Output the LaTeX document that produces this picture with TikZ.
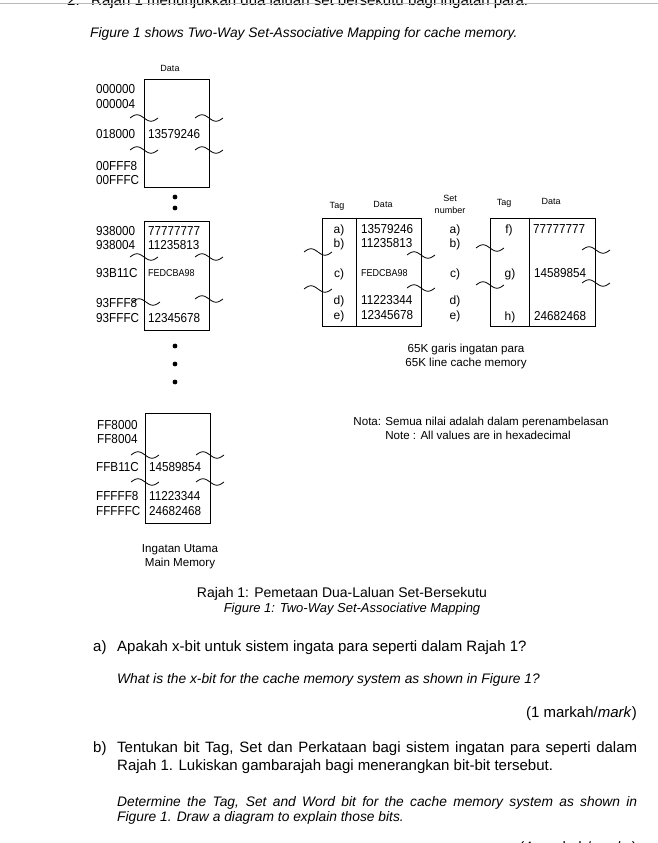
\documentclass[tikz,border=0pt]{standalone}
\usepackage{fontspec}
\setmainfont{Liberation Sans}
\newfontfamily\hexfont[FakeStretch=0.9]{Liberation Sans}
\begin{document}
\begin{tikzpicture}[x=1pt,y=-1pt,
  memcol/.style={draw, line width=0.9pt, inner sep=0pt, anchor=north west},
  hex/.style={font=\hexfont\fontsize{13}{14}\selectfont, anchor=base west, inner sep=0pt},
  hexs/.style={font=\hexfont\fontsize{10}{11}\selectfont, anchor=base west, inner sep=0pt},
  rowl/.style={font=\fontsize{12}{13}\selectfont, anchor=base, inner sep=0pt},
  hdr/.style={font=\fontsize{9}{10}\selectfont, anchor=base, inner sep=0pt},
  lbl/.style={font=\fontsize{11.6}{13}\selectfont, anchor=base, inner sep=0pt},
  body/.style={font=\fontsize{15}{18}\selectfont, anchor=base west, inner sep=0pt},
  bodyi/.style={font=\fontsize{13.8}{16}\selectfont\itshape, anchor=base west, inner sep=0pt},
  dot/.style={fill, circle, inner sep=0pt, minimum size=4.8pt},
  brk/.pic={\draw[line width=0.8pt] plot[domain=-14:14,samples=29,smooth] (\x,{3.2*sin(12.86*\x)});}
]
\useasboundingbox (0,0) rectangle (658,843);
\clip (0,0) rectangle (658,843);

% cut-off top and bottom lines
\node[body] (cutnum) at (67,6) {2.};
\node[body] (cuttop) at (91,6) {Rajah 1 menunjukkan dua laluan set bersekutu bagi ingatan para.};
\draw[gray!55, line width=0.8pt] (0,3.5) -- (658,3.5);
\node[body, anchor=base east] (cutbot) at (637,852.5) {(4 markah/\textit{marks})};

\node[bodyi] (intro) at (90,38) {Figure 1 shows Two-Way Set-Associative Mapping for cache memory.};

% ---------- main memory ----------
\node[hdr] (mdata) at (170,71) {Data};
\node[memcol, minimum width=65pt, minimum height=108pt] (m1) at (144,79) {};
\node[hex] (l1a) at (96,93.5) {000000};
\node[hex] (l1b) at (96,108) {000004};
\node[hex] (l1c) at (96,138) {018000};
\node[hex] (l1d) at (96,170.5) {00FFF8};
\node[hex] (l1e) at (96,184.5) {00FFFC};
\node[hex] (d1c) at (148,138) {13579246};
\pic at (144,118) {brk}; \pic at (209,118) {brk};
\pic at (144,150) {brk}; \pic at (209,150) {brk};

\node[dot] (dt1) at (175,197) {};
\node[dot] (dt2) at (175,208) {};

\node[memcol, minimum width=65pt, minimum height=109pt] (m2) at (144,221) {};
\node[hex] (l2a) at (96,235.5) {938000};
\node[hex] (l2b) at (96,249.5) {938004};
\node[hex] (l2c) at (96,277.5) {93B11C};
\node[hex] (l2d) at (96,307.5) {93FFF8};
\node[hex] (l2e) at (96,322.5) {93FFFC};
\node[hex] (d2a) at (148,235.5) {77777777};
\node[hex] (d2b) at (148,249.5) {11235813};
\node[hexs] (d2c) at (148,276.5) {FEDCBA98};
\node[hex] (d2e) at (148,322.5) {12345678};
\pic at (144,257) {brk}; \pic at (209,257) {brk};
\pic at (146,302) {brk}; \pic at (209,299) {brk};

\node[dot] (dt3) at (175,346) {};
\node[dot] (dt4) at (175,364) {};
\node[dot] (dt5) at (175,382) {};

\node[memcol, minimum width=65pt, minimum height=110pt] (m3) at (145,413) {};
\node[hex] (l3a) at (97,429.5) {FF8000};
\node[hex] (l3b) at (97,443.5) {FF8004};
\node[hex] (l3c) at (96,471.5) {FFB11C};
\node[hex] (l3d) at (96,500.5) {FFFFF8};
\node[hex] (l3e) at (96,515.5) {FFFFFC};
\node[hex] (d3c) at (149,471.5) {14589854};
\node[hex] (d3d) at (149,500.5) {11223344};
\node[hex] (d3e) at (149,515.5) {24682468};
\pic at (145,455) {brk}; \pic at (210,455) {brk};
\pic at (145,482) {brk}; \pic at (210,482) {brk};

\node[lbl] (mm1) at (180,552) {Ingatan Utama};
\node[lbl] (mm2) at (180,566) {Main Memory};

% ---------- cache ----------
\node[hdr] (ctag1) at (337,208) {Tag};
\node[hdr] (cdat1) at (383,207) {Data};
\node[hdr] (cset1) at (450,201) {Set};
\node[hdr] (cset2) at (450,213) {number};
\node[hdr] (ctag2) at (504,205) {Tag};
\node[hdr] (cdat2) at (551,204) {Data};

\node[memcol, minimum width=34pt, minimum height=108pt] (c1t) at (322,218) {};
\node[memcol, minimum width=65pt, minimum height=108pt] (c1d) at (356,218) {};
\node[memcol, minimum width=39pt, minimum height=108pt] (c2t) at (490,218) {};
\node[memcol, minimum width=66pt, minimum height=108pt] (c2d) at (529,218) {};

\node[rowl] (ra) at (339,233) {a)};
\node[rowl] (rb) at (339,247.5) {b)};
\node[rowl] (rc) at (339,277) {c)};
\node[rowl] (rd) at (339,304.5) {d)};
\node[rowl] (re) at (339,319.5) {e)};
\node[hex] (cda) at (361,233) {13579246};
\node[hex] (cdb) at (361,247.5) {11235813};
\node[hexs] (cdc) at (361,276.5) {FEDCBA98};
\node[hex] (cdd) at (361,304.5) {11223344};
\node[hex] (cde) at (361,319.5) {12345678};
\node[rowl] (sa) at (455,233) {a)};
\node[rowl] (sb) at (455,247.5) {b)};
\node[rowl] (sc) at (455,277) {c)};
\node[rowl] (sd) at (455,304.5) {d)};
\node[rowl] (se) at (455,319.5) {e)};
\pic at (318,252) {brk}; \pic at (421,255) {brk};
\pic at (318,289) {brk}; \pic at (421,288) {brk};

\node[rowl] (rf) at (509,233) {f)};
\node[rowl] (rg) at (510,277) {g)};
\node[rowl] (rh) at (510,320) {h)};
\node[hex] (c2a) at (533,233) {77777777};
\node[hex] (c2g) at (534,277) {14589854};
\node[hex] (c2h) at (534,320) {24682468};
\pic at (490,248) {brk}; \pic at (596,250) {brk};
\pic at (490,285) {brk}; \pic at (596,283) {brk};

\node[lbl] (k1) at (466,352) {65K garis ingatan para};
\node[lbl] (k2) at (466,366) {65K line cache memory};

\node[lbl] (n1) at (481,425) {Nota: Semua nilai adalah dalam perenambelasan};
\node[lbl] (n2) at (478,439) {Note : All values are in hexadecimal};

% ---------- caption and questions ----------
\node[font=\fontsize{14}{16}\selectfont, anchor=base, inner sep=0pt] (cap1) at (342,597) {Rajah 1: Pemetaan Dua-Laluan Set-Bersekutu};
\node[font=\fontsize{13}{15}\selectfont\itshape, anchor=base, inner sep=0pt] (cap2) at (352,612) {Figure 1: Two-Way Set-Associative Mapping};

\node[body] (qa) at (93,651) {a)};
\node[body] (qa1) at (117,651) {Apakah x-bit untuk sistem ingata para seperti dalam Rajah 1?};
\node[bodyi] (qa2) at (117,683) {What is the x-bit for the cache memory system as shown in Figure 1?};
\node[body, anchor=base east] (qam) at (637,717) {(1 markah/\textit{mark})};

\node[body] (qb) at (93,752) {b)};
\node[body] (qb1) at (117,752) {\makebox[520pt][s]{Tentukan bit Tag, Set dan Perkataan bagi sistem ingatan para seperti dalam}};
\node[body] (qb2) at (117,770) {Rajah 1. Lukiskan gambarajah bagi menerangkan bit-bit tersebut.};
\node[bodyi] (qb3) at (117,806) {\makebox[520pt][s]{Determine the Tag, Set and Word bit for the cache memory system as shown in}};
\node[bodyi] (qb4) at (117,821) {Figure 1. Draw a diagram to explain those bits.};
\end{tikzpicture}
\end{document}
